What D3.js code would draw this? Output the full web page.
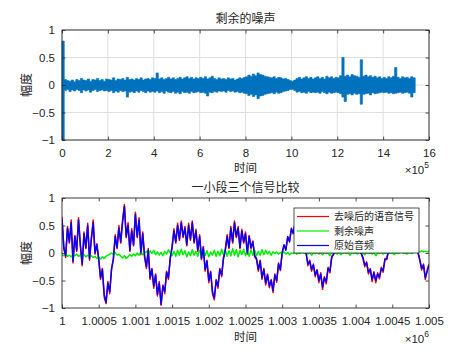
<!DOCTYPE html>
<html><head><meta charset="utf-8">
<script src="https://cdn.jsdelivr.net/npm/d3@7"></script>
<style>body{margin:0;background:#fff}svg{display:block}</style>
</head><body><svg id="c" width="474" height="355"></svg>
<script>
// ---------- data ----------
const topTitle = "剩余的噪声";
const bottomTitle = "一小段三个信号比较";
const yLabel = "幅度";
const xLabel = "时间";
const topXTicks = [0, 2, 4, 6, 8, 10, 12, 14, 16];          // ×10^5
const yTicks = [-1, -0.5, 0, 0.5, 1];
const bottomXTicks = [1, 1.0005, 1.001, 1.0015, 1.002, 1.0025, 1.003, 1.0035, 1.004, 1.0045, 1.005]; // ×10^6
const bottomXTickLabels = ["1", "1.0005", "1.001", "1.0015", "1.002", "1.0025", "1.003", "1.0035", "1.004", "1.0045", "1.005"];

// residual noise over the whole file: max / min per bin of 10000 samples
const noiseBinSize = 10000;
const noiseHi = [
 0.8,0.10,0.08,0.07,0.09,0.06,0.10,0.08,0.12,0.09,
 0.08,0.11,0.07,0.10,0.09,0.12,0.08,0.10,0.07,0.11,
 0.10,0.09,0.13,0.08,0.11,0.10,0.12,0.09,0.14,0.10,
 0.11,0.09,0.12,0.10,0.13,0.09,0.11,0.12,0.10,0.13,
 0.12,0.22,0.11,0.13,0.10,0.12,0.14,0.11,0.13,0.10,
 0.12,0.14,0.11,0.13,0.15,0.12,0.14,0.11,0.13,0.12,
 0.14,0.12,0.15,0.11,0.13,0.16,0.12,0.10,0.13,0.11,
 0.12,0.10,0.13,0.11,0.12,0.09,0.11,0.13,0.12,0.14,
 0.15,0.18,0.16,0.20,0.17,0.22,0.19,0.18,0.16,0.15,
 0.14,0.13,0.15,0.12,0.14,0.13,0.11,0.12,0.10,0.08,
 0.07,0.09,0.12,0.14,0.11,0.13,0.15,0.12,0.14,0.11,
 0.13,0.15,0.12,0.14,0.11,0.16,0.13,0.15,0.12,0.14,
 0.13,0.17,0.50,0.16,0.18,0.15,0.19,0.17,0.16,0.14,
 0.46,0.16,0.18,0.15,0.17,0.14,0.16,0.13,0.15,0.12,
 0.14,0.12,0.15,0.13,0.16,0.32,0.14,0.12,0.15,0.13,
 0.14,0.12,0.15,0.13];
const noiseLo = [
 -1.0,-0.10,-0.08,-0.12,-0.09,-0.11,-0.08,-0.10,-0.14,-0.09,
 -0.11,-0.09,-0.13,-0.10,-0.08,-0.12,-0.10,-0.09,-0.11,-0.10,
 -0.12,-0.10,-0.14,-0.11,-0.13,-0.10,-0.12,-0.11,-0.22,-0.13,
 -0.12,-0.14,-0.11,-0.13,-0.10,-0.12,-0.14,-0.11,-0.13,-0.12,
 -0.13,-0.11,-0.14,-0.12,-0.15,-0.11,-0.13,-0.14,-0.12,-0.15,
 -0.13,-0.16,-0.12,-0.14,-0.13,-0.15,-0.12,-0.14,-0.13,-0.12,
 -0.14,-0.13,-0.15,-0.20,-0.13,-0.14,-0.12,-0.13,-0.11,-0.12,
 -0.11,-0.13,-0.10,-0.12,-0.11,-0.13,-0.12,-0.14,-0.13,-0.15,
 -0.16,-0.19,-0.17,-0.21,-0.18,-0.25,-0.20,-0.19,-0.17,-0.16,
 -0.15,-0.14,-0.16,-0.13,-0.15,-0.14,-0.12,-0.11,-0.10,-0.08,
 -0.08,-0.10,-0.13,-0.12,-0.14,-0.13,-0.15,-0.12,-0.14,-0.13,
 -0.14,-0.13,-0.15,-0.12,-0.14,-0.16,-0.13,-0.15,-0.14,-0.13,
 -0.14,-0.16,-0.22,-0.30,-0.17,-0.16,-0.18,-0.15,-0.17,-0.16,
 -0.35,-0.17,-0.16,-0.15,-0.18,-0.14,-0.16,-0.15,-0.14,-0.13,
 -0.14,-0.13,-0.15,-0.14,-0.16,-0.15,-0.14,-0.13,-0.15,-0.14,
 -0.13,-0.15,-0.22,-0.14];

// short segment (samples 1000000 .. 1005000, one value every 25 samples)
const segmentStart = 1000000;
const segmentStep = 25;
const denoisedSpeech = [
 0.66,0.08,-0.08,0.48,0.18,0.6,-0.18,0.32,0.03,0.64,0.13,-0.23,0.38,0.08,0.54,-0.13,0.27,0.6,-0.02,0.17,
 -0.12,-0.48,-0.28,-0.8,-0.92,-0.52,-0.74,-0.28,
 -0.12,0.33,0.08,0.5,0.18,0.6,0.88,0.28,0.55,0.03,0.44,0.13,0.74,0.28,0.64,-0.03,0.38,-0.08,
 -0.28,0.08,-0.48,-0.28,-0.64,-0.38,-0.78,-0.52,-0.95,-0.58,-0.74,-0.33,-0.48,-0.08,
 0.12,0.44,0.18,0.54,0.23,0.58,0.28,0.48,0.13,0.54,0.23,0.58,0.18,0.43,0.03,0.33,
 -0.12,0.12,-0.33,-0.13,-0.54,-0.33,-0.74,-0.85,-0.48,-0.64,-0.28,-0.43,-0.08,0.07,
 0.33,0.08,0.48,0.18,0.58,0.28,0.48,0.08,0.43,0.18,0.38,-0.02,0.32,0.08,0.22,-0.07,
 -0.12,-0.33,-0.13,-0.48,-0.28,-0.58,-0.38,-0.63,-0.48,-0.72,-0.38,-0.53,-0.18,-0.32,
 0.02,0.13,0.07,0.28,0.22,0.43,0.37,0.53,0.42,0.48,0.32,0.33,0.12,
 0.02,-0.23,-0.13,-0.33,-0.2,-0.43,-0.3,-0.54,-0.36,-0.66,-0.43,-0.56,-0.26,-0.36,-0.06,-0.03,
 0.14,0.26,0.34,0.31,0.44,0.41,0.49,0.46,0.39,0.36,0.29,0.21,0.14,0.06,-0.01,
 -0.1,-0.25,-0.16,-0.38,-0.28,-0.52,-0.34,-0.54,-0.36,-0.47,-0.26,-0.35,-0.1,-0.12,0.06,
 0.14,0.26,0.29,0.41,0.34,0.46,0.39,0.36,0.29,0.26,0.29,0.21,0.14,0.11,
 0.18,0.0,-0.14,-0.31,-0.2,-0.48,-0.31,-0.2];
const residualNoise = [
 -0.03,-0.05,-0.02,-0.06,-0.04,-0.07,-0.03,-0.05,-0.02,-0.06,-0.04,-0.05,-0.03,-0.07,-0.04,-0.06,-0.05,-0.08,-0.06,-0.1,
 -0.08,-0.11,-0.07,-0.1,-0.06,-0.04,-0.02,0.0,
 -0.03,0.01,-0.04,-0.02,-0.06,-0.09,-0.05,-0.1,-0.07,-0.03,-0.06,-0.02,-0.05,0.0,-0.04,0.02,-0.03,0.0,
 0.03,-0.02,0.04,-0.01,0.05,-0.03,0.02,-0.04,0.01,-0.05,0.03,-0.02,0.06,0.0,
 -0.05,0.03,-0.06,0.05,-0.04,0.07,-0.03,0.04,-0.07,0.02,-0.05,0.06,-0.04,0.03,-0.06,0.05,
 -0.03,0.06,-0.05,0.04,-0.07,0.02,-0.04,0.05,-0.06,0.03,-0.05,0.07,-0.03,0.05,
 -0.06,0.04,-0.05,0.08,-0.04,0.06,-0.07,0.05,-0.03,0.07,-0.05,0.04,-0.06,0.06,-0.04,0.05,
 -0.05,0.03,-0.04,0.06,-0.03,0.05,-0.02,0.03,-0.04,0.02,-0.01,0.02,-0.02,0.01,
 -0.01,0.02,-0.02,0.01,-0.03,0.0,-0.01,0.01,-0.02,0.0,-0.01,0.02,-0.01,
 0.0,-0.02,0.01,-0.04,0.0,-0.01,0.02,-0.02,0.0,-0.03,0.01,-0.01,0.0,-0.05,0.01,-0.01,
 0.0,-0.02,0.01,-0.03,0.0,0.01,-0.01,0.0,-0.04,0.01,-0.01,0.0,-0.02,0.01,-0.01,
 0.0,-0.03,0.01,-0.01,0.0,-0.02,0.01,-0.05,0.0,-0.01,0.01,-0.02,0.0,-0.01,0.01,
 -0.01,0.0,-0.03,0.01,-0.01,0.0,0.02,-0.01,0.0,-0.02,0.01,0.0,-0.01,0.02,
 0.01,0.03,0.02,0.04,0.02,0.03,0.02,0.03];
const originalAudio = [
 0.62,0.1,-0.05,0.45,0.2,0.55,-0.15,0.3,0.05,0.6,0.15,-0.2,0.35,0.1,0.5,-0.1,0.25,0.55,0.0,0.15,
 -0.1,-0.45,-0.3,-0.75,-0.9,-0.55,-0.7,-0.3,
 -0.1,0.3,0.1,0.45,0.2,0.55,0.85,0.3,0.5,0.05,0.4,0.15,0.7,0.3,0.6,0.0,0.35,-0.05,
 -0.25,0.05,-0.45,-0.3,-0.6,-0.4,-0.75,-0.55,-0.93,-0.6,-0.7,-0.35,-0.45,-0.1,
 0.1,0.4,0.2,0.5,0.25,0.55,0.3,0.45,0.15,0.5,0.25,0.55,0.2,0.4,0.05,0.3,
 -0.1,0.1,-0.3,-0.15,-0.5,-0.35,-0.7,-0.82,-0.5,-0.6,-0.3,-0.4,-0.1,0.05,
 0.3,0.1,0.45,0.2,0.55,0.3,0.45,0.1,0.4,0.2,0.35,0.0,0.3,0.1,0.2,-0.05,
 -0.1,-0.3,-0.15,-0.45,-0.3,-0.55,-0.4,-0.6,-0.5,-0.68,-0.4,-0.5,-0.2,-0.3,
 0.0,0.15,0.05,0.3,0.2,0.45,0.35,0.55,0.4,0.5,0.3,0.35,0.1,
 0.0,-0.2,-0.15,-0.3,-0.22,-0.4,-0.32,-0.5,-0.38,-0.62,-0.45,-0.52,-0.28,-0.33,-0.08,-0.02,
 0.15,0.25,0.35,0.3,0.45,0.4,0.5,0.45,0.4,0.35,0.3,0.2,0.15,0.05,0.0,
 -0.08,-0.22,-0.18,-0.35,-0.3,-0.48,-0.36,-0.5,-0.38,-0.44,-0.28,-0.32,-0.12,-0.1,0.05,
 0.15,0.25,0.3,0.4,0.35,0.45,0.4,0.35,0.3,0.25,0.3,0.2,0.15,0.1,
 0.2,0.02,-0.12,-0.28,-0.22,-0.45,-0.33,-0.22];
const legendLabels = ["去噪后的语音信号", "剩余噪声", "原始音频"];
const seriesColors = ["#ff0000", "#00ee00", "#0000ff"];

// ---------- drawing ----------
const svg = d3.select("#c");
const axisColor = "#262626";
const textColor = "#262626";
const numFont = "'Liberation Sans', Arial, Helvetica, sans-serif";
const cjkFont = "'Noto Sans CJK SC', sans-serif";

function grid(g, x, y, xTickVals, L, R, T, B) {
  g.append("g").selectAll("line").data(xTickVals).join("line")
    .attr("x1", d => x(d)).attr("x2", d => x(d)).attr("y1", T).attr("y2", B)
    .attr("stroke", "#dfdfdf").attr("stroke-width", 1);
  g.append("g").selectAll("line").data(yTicks).join("line")
    .attr("x1", L).attr("x2", R).attr("y1", d => y(d)).attr("y2", d => y(d))
    .attr("stroke", "#dfdfdf").attr("stroke-width", 1);
}
function axes(g, x, y, xTickVals, xTickFmt, L, R, T, B, expPow, expY) {
  const tl = 3.5;
  const ax = g.append("g").attr("transform", `translate(0,${B})`)
    .call(d3.axisBottom(x).tickValues(xTickVals).tickFormat(xTickFmt).tickSizeInner(-tl).tickSizeOuter(0).tickPadding(9));
  const axT = g.append("g").attr("transform", `translate(0,${T})`)
    .call(d3.axisTop(x).tickValues(xTickVals).tickFormat("").tickSizeInner(-tl).tickSizeOuter(0));
  const ay = g.append("g").attr("transform", `translate(${L},0)`)
    .call(d3.axisLeft(y).tickValues(yTicks).tickFormat(d3.format("")).tickSizeInner(-tl).tickSizeOuter(0).tickPadding(7));
  const ayR = g.append("g").attr("transform", `translate(${R},0)`)
    .call(d3.axisRight(y).tickValues(yTicks).tickFormat("").tickSizeInner(-tl).tickSizeOuter(0));
  [ax, axT, ay, ayR].forEach(a => {
    a.selectAll("path").remove();
    a.selectAll("line").attr("stroke", axisColor).attr("stroke-width", 0.8);
    a.selectAll("text").attr("fill", textColor).style("font-family", numFont).style("font-size", "11.5px");
  });
  g.append("rect").attr("x", L).attr("y", T).attr("width", R - L).attr("height", B - T)
    .attr("fill", "none").attr("stroke", axisColor).attr("stroke-width", 0.9);
  const ex = g.append("text").attr("x", R).attr("y", expY).attr("text-anchor", "end")
    .attr("fill", textColor).style("font-family", numFont).style("font-size", "11.5px");
  ex.append("tspan").text("\u00d710");
  ex.append("tspan").attr("dy", -6).style("font-size", "8.5px").text(expPow);
}

// ---- top panel ----
{
  const L = 62, R = 429, T = 30, B = 140;
  const g = svg.append("g");
  const x = d3.scaleLinear().domain([0, 16e5]).range([L, R]);
  const y = d3.scaleLinear().domain([-1, 1]).range([B, T]);
  const xt = topXTicks.map(v => v * 1e5);
  grid(g, x, y, xt, L, R, T, B);
  const bins = noiseHi.map((h, i) => ({ s: i * noiseBinSize, hi: h, lo: noiseLo[i] }));
  bins.push({ s: noiseHi.length * noiseBinSize, hi: noiseHi[noiseHi.length - 1], lo: noiseLo[noiseLo.length - 1] });
  g.append("path").datum(bins)
    .attr("d", d3.area().curve(d3.curveStepAfter).x(d => x(d.s)).y0(d => y(d.lo)).y1(d => y(d.hi)))
    .attr("fill", "#0072bd").attr("stroke", "#0072bd").attr("stroke-width", 0.6);
  axes(g, x, y, xt, d => d3.format("")(d / 1e5), L, R, T, B, "5", B + 34);
  g.append("text").attr("x", (L + R) / 2).attr("y", T - 7).attr("text-anchor", "middle")
    .attr("fill", textColor).style("font-family", cjkFont).style("font-size", "12px").text(topTitle);
  g.append("text").attr("x", (L + R) / 2).attr("y", B + 32).attr("text-anchor", "middle")
    .attr("fill", textColor).style("font-family", cjkFont).style("font-size", "11.5px").text(xLabel);
  g.append("text").attr("transform", `translate(31,${(T + B) / 2}) rotate(-90)`).attr("text-anchor", "middle")
    .attr("fill", textColor).style("font-family", cjkFont).style("font-size", "12px").text(yLabel);
}

// ---- bottom panel ----
{
  const L = 62, R = 429, T = 198, B = 308;
  const g = svg.append("g");
  const x = d3.scaleLinear().domain([1e6, 1.005e6]).range([L, R]);
  const y = d3.scaleLinear().domain([-1, 1]).range([B, T]);
  const xt = bottomXTicks.map(v => v * 1e6);
  svg.append("defs").append("clipPath").attr("id", "clipB")
    .append("rect").attr("x", L).attr("y", T).attr("width", R - L).attr("height", B - T);
  const line = d3.line().x((d, i) => x(segmentStart + i * segmentStep)).y(d => y(d));
  const plotG = g.append("g").attr("clip-path", "url(#clipB)");
  [denoisedSpeech, residualNoise, originalAudio].forEach((s, k) => {
    plotG.append("path").datum(s).attr("d", line)
      .attr("fill", "none").attr("stroke", seriesColors[k]).attr("stroke-width", 1.5).attr("stroke-linejoin", "round");
  });
  axes(g, x, y, xt, (d, i) => bottomXTickLabels[i], L, R, T, B, "6", B + 35);
  g.append("text").attr("x", (L + R) / 2).attr("y", T - 6).attr("text-anchor", "middle")
    .attr("fill", textColor).style("font-family", cjkFont).style("font-size", "12px").text(bottomTitle);
  g.append("text").attr("x", (L + R) / 2).attr("y", B + 33).attr("text-anchor", "middle")
    .attr("fill", textColor).style("font-family", cjkFont).style("font-size", "11.5px").text(xLabel);
  g.append("text").attr("transform", `translate(31,${(T + B) / 2}) rotate(-90)`).attr("text-anchor", "middle")
    .attr("fill", textColor).style("font-family", cjkFont).style("font-size", "12px").text(yLabel);

  // legend
  const lx = 294, ly = 208, lw = 125, lh = 45;
  const lg = g.append("g");
  lg.append("rect").attr("x", lx).attr("y", ly).attr("width", lw).attr("height", lh)
    .attr("fill", "#fff").attr("stroke", axisColor).attr("stroke-width", 0.8);
  legendLabels.forEach((t, i) => {
    const yy = ly + 8.5 + i * 14.5;
    lg.append("line").attr("x1", lx + 3).attr("x2", lx + 35).attr("y1", yy).attr("y2", yy)
      .attr("stroke", seriesColors[i]).attr("stroke-width", 1.2);
    lg.append("text").attr("x", lx + 40).attr("y", yy + 3.6)
      .attr("fill", textColor).style("font-family", cjkFont).style("font-size", "10px").text(t);
  });
}
</script></body></html>
